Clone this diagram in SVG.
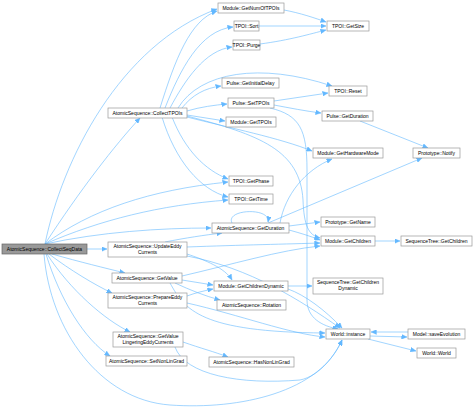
<svg xmlns="http://www.w3.org/2000/svg" width="474" height="411" viewBox="0 0 474 411">
<style>
.n rect{fill:#ffffff;stroke:#999999;stroke-width:0.7}
.r rect{fill:#999999;stroke:#666666;stroke-width:0.7}
text{font-family:"Liberation Sans",Arial,sans-serif;font-size:5px;fill:#000;text-anchor:middle}
#edges path{fill:none;stroke:#63b8ff;stroke-width:0.6;marker-end:url(#ah)}
</style>
<defs>
<marker id="ah" markerUnits="userSpaceOnUse" markerWidth="6" markerHeight="5" refX="5.5" refY="2.5" orient="auto">
<path d="M0,0 L5.5,2.5 L0,5 z" fill="#63b8ff" stroke="#63b8ff" stroke-width="0.3"/>
</marker>
</defs>
<rect width="474" height="411" fill="#ffffff"/>
<g id="edges">
<path d="M45,244 C62,160 120,45 217,9"/>
<path d="M45,244 C80,190 115,145 140,118"/>
<path d="M45,244 C90,210 150,190 228,182"/>
<path d="M45,244 C100,220 160,205 228,200"/>
<path d="M45,244 C100,232 160,228 211,228"/>
<path d="M87,249 L107,249"/>
<path d="M52,254 C80,262 105,268 125,273"/>
<path d="M49,254 C70,270 95,285 112,293"/>
<path d="M47,254 C70,290 105,320 130,332"/>
<path d="M46,254 C60,300 85,340 110,356"/>
<path d="M44,254 C50,330 100,400 170,405 C240,410 320,392 342,340"/>
<path d="M160,108 C175,60 190,20 217,11"/>
<path d="M165,108 C180,70 200,30 233,27"/>
<path d="M170,108 C185,80 205,50 232,47"/>
<path d="M178,108 C200,72 260,62 332,86"/>
<path d="M182,108 C192,95 205,88 221,86"/>
<path d="M187,111 C200,107 215,105 227,104"/>
<path d="M187,115 L225,121"/>
<path d="M187,117 C230,128 280,138 312,151"/>
<path d="M172,117 C185,150 205,170 228,179"/>
<path d="M162,117 C175,160 200,190 228,197"/>
<path d="M187,116 C260,135 300,150 303,200 C304,225 308,235 320,238"/>
<path d="M284,10 C300,13 315,18 326,22"/>
<path d="M259,26 L326,26"/>
<path d="M260,44 C290,40 310,34 326,30"/>
<path d="M274,101 L328,93"/>
<path d="M274,105 C290,108 305,111 321,113"/>
<path d="M270,108 C300,115 307,130 307,170 L307,300 C307,318 322,326 338,329"/>
<path d="M360,121 L428,148"/>
<path d="M232,223 C225,209 271,207 268,222"/>
<path d="M280,223 C285,195 305,170 332,159"/>
<path d="M268,223 L422,158"/>
<path d="M289,226 L320,222"/>
<path d="M289,230 C300,233 310,236 320,240"/>
<path d="M375,241 L400,241"/>
<path d="M165,242 C185,238 205,235 222,233"/>
<path d="M187,247 C240,245 290,244 320,243"/>
<path d="M187,254 C205,260 225,268 232,280"/>
<path d="M187,256 C250,268 300,300 340,328"/>
<path d="M182,276 C230,265 280,250 320,246"/>
<path d="M182,280 L213,285"/>
<path d="M175,283 C190,290 205,296 220,300"/>
<path d="M170,283 C185,310 200,332 325,333"/>
<path d="M187,296 C195,293 203,291 213,289"/>
<path d="M187,303 C240,315 290,334 325,337"/>
<path d="M288,286 L312,286"/>
<path d="M288,289 C305,295 325,310 342,328"/>
<path d="M183,342 C200,348 215,352 228,357"/>
<path d="M175,347 C185,375 240,385 300,380 C320,376 335,355 342,340"/>
<path d="M408,332 L371,332"/>
<path d="M370,336 L407,337"/>
<path d="M368,339 L416,351"/>
</g>
<g id="CollectSeqData" class="r"><rect x="2" y="244" width="85" height="10"/><text x="44.5" y="250.8">AtomicSequence::CollectSeqData</text></g>
<g id="CollectTPOIs" class="n"><rect x="108" y="108" width="79" height="10"/><text x="147.5" y="114.8">AtomicSequence::CollectTPOIs</text></g>
<g id="GetNumOfTPOIs" class="n"><rect x="218" y="3" width="66" height="10"/><text x="251" y="9.8">Module::GetNumOfTPOIs</text></g>
<g id="Sort" class="n"><rect x="234" y="21" width="25" height="10"/><text x="246.5" y="27.8">TPOI::Sort</text></g>
<g id="Purge" class="n"><rect x="233" y="40" width="27" height="10"/><text x="246.5" y="46.8">TPOI::Purge</text></g>
<g id="GetSize" class="n"><rect x="327" y="21" width="42" height="10"/><text x="348" y="27.8">TPOI::GetSize</text></g>
<g id="GetInitialDelay" class="n"><rect x="222" y="78" width="57" height="10"/><text x="250.5" y="84.8">Pulse::GetInitialDelay</text></g>
<g id="SetTPOIs" class="n"><rect x="228" y="98" width="46" height="10"/><text x="251" y="104.8">Pulse::SetTPOIs</text></g>
<g id="GetTPOIs" class="n"><rect x="226" y="117" width="50" height="10"/><text x="251" y="123.8">Module::GetTPOIs</text></g>
<g id="Reset" class="n"><rect x="329" y="86" width="38" height="10"/><text x="348" y="92.8">TPOI::Reset</text></g>
<g id="PulseGetDuration" class="n"><rect x="322" y="111" width="51" height="10"/><text x="347.5" y="117.8">Pulse::GetDuration</text></g>
<g id="GetHardwareMode" class="n"><rect x="313" y="148" width="70" height="10"/><text x="348" y="154.8">Module::GetHardwareMode</text></g>
<g id="Notify" class="n"><rect x="413" y="148" width="47" height="10"/><text x="436.5" y="154.8">Prototype::Notify</text></g>
<g id="GetPhase" class="n"><rect x="229" y="176" width="44" height="10"/><text x="251" y="182.8">TPOI::GetPhase</text></g>
<g id="GetTime" class="n"><rect x="229" y="194" width="44" height="10"/><text x="251" y="200.8">TPOI::GetTime</text></g>
<g id="GetDuration" class="n"><rect x="212" y="223" width="77" height="10"/><text x="250.5" y="229.8">AtomicSequence::GetDuration</text></g>
<g id="GetName" class="n"><rect x="321" y="217" width="54" height="10"/><text x="348" y="223.8">Prototype::GetName</text></g>
<g id="GetChildren" class="n"><rect x="321" y="236" width="54" height="10"/><text x="348" y="242.8">Module::GetChildren</text></g>
<g id="STGetChildren" class="n"><rect x="401" y="236" width="71" height="10"/><text x="436.5" y="242.8">SequenceTree::GetChildren</text></g>
<g id="UpdateEddyCurrents" class="n"><rect x="108" y="242" width="79" height="15"/><text x="147.5" y="247.6">AtomicSequence::UpdateEddy</text><text x="147.5" y="253.6">Currents</text></g>
<g id="GetValue" class="n"><rect x="112" y="273" width="70" height="10"/><text x="147" y="279.8">AtomicSequence::GetValue</text></g>
<g id="PrepareEddyCurrents" class="n"><rect x="108" y="293" width="79" height="15"/><text x="147.5" y="298.6">AtomicSequence::PrepareEddy</text><text x="147.5" y="304.6">Currents</text></g>
<g id="GetChildrenDynamic" class="n"><rect x="214" y="281" width="74" height="10"/><text x="251" y="287.8">Module::GetChildrenDynamic</text></g>
<g id="Rotation" class="n"><rect x="217" y="300" width="69" height="10"/><text x="251.5" y="306.8">AtomicSequence::Rotation</text></g>
<g id="STGetChildrenDynamic" class="n"><rect x="313" y="278" width="70" height="16"/><text x="348" y="284">SequenceTree::GetChildren</text><text x="348" y="290">Dynamic</text></g>
<g id="GetValueLingering" class="n"><rect x="113" y="332" width="70" height="15"/><text x="148" y="337.6">AtomicSequence::GetValue</text><text x="148" y="343.6">LingeringEddyCurrents</text></g>
<g id="SetNonLinGrad" class="n"><rect x="106" y="356" width="81" height="10"/><text x="146.5" y="362.8">AtomicSequence::SetNonLinGrad</text></g>
<g id="HasNonLinGrad" class="n"><rect x="209" y="357" width="85" height="10"/><text x="251.5" y="363.8">AtomicSequence::HasNonLinGrad</text></g>
<g id="WorldInstance" class="n"><rect x="326" y="329" width="44" height="10"/><text x="348" y="335.8">World::instance</text></g>
<g id="saveEvolution" class="n"><rect x="408" y="329" width="57" height="10"/><text x="436.5" y="335.8">Model::saveEvolution</text></g>
<g id="WorldWorld" class="n"><rect x="417" y="348" width="39" height="10"/><text x="436.5" y="354.8">World::World</text></g>
</svg>
